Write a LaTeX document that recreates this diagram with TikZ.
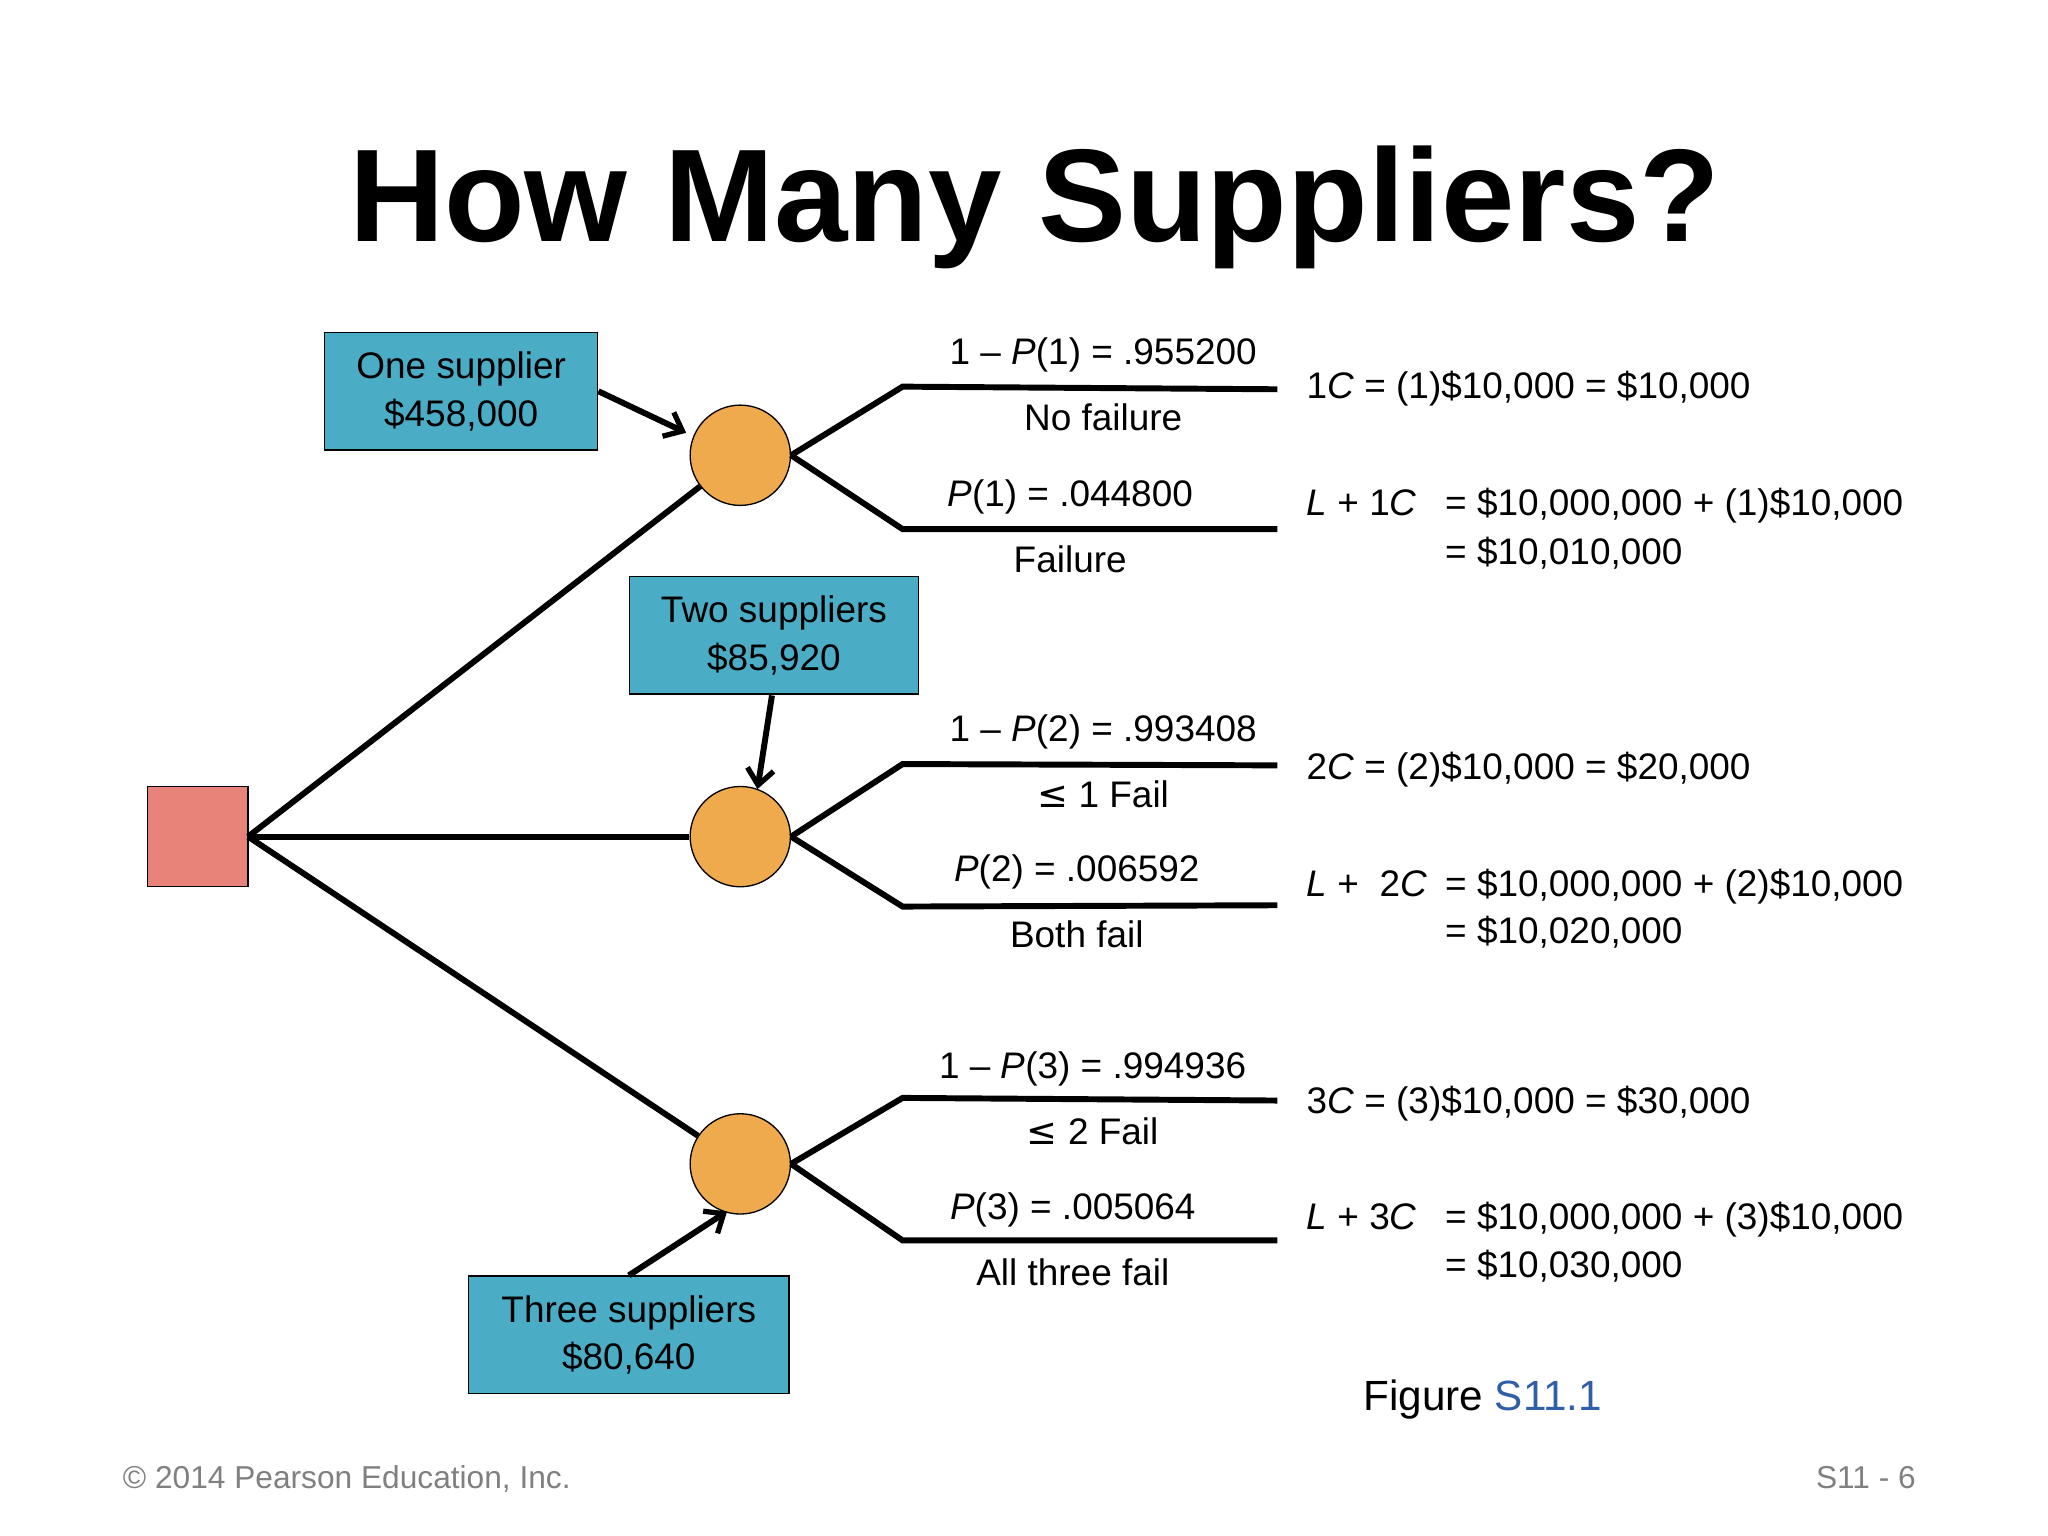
\documentclass[tikz,border=0pt]{standalone}
\usepackage{fontspec}
\setmainfont{Liberation Sans}
\newfontfamily\symfont{DejaVu Sans}
\usetikzlibrary{arrows.meta}
\definecolor{boxblue}{HTML}{4BACC6}
\definecolor{nodeorange}{HTML}{EEAA4C}
\definecolor{sqred}{HTML}{E8837A}
\definecolor{figblue}{HTML}{2E5FA8}
\begin{document}
\begin{tikzpicture}[x=1pt,y=-1pt,
  br/.style={line width=4.5pt},
  chance/.style={circle,draw,fill=nodeorange,minimum size=76pt,inner sep=0pt,line width=1pt},
  lbl/.style={font=\fontsize{28}{32}\selectfont,inner sep=0pt,anchor=base},
  rt/.style={font=\fontsize{28}{32}\selectfont,inner sep=0pt,anchor=base west},
  cbox/.style={draw,fill=boxblue,font=\fontsize{28}{36}\selectfont,align=center,inner sep=0pt,line width=1pt},
  arr/.style={line width=4.5pt,-{Straight Barb[length=12pt,width=20pt,line width=4pt]}}]
\path[use as bounding box] (0,0) rectangle (1552,1164);
\node[font=\fontsize{100}{110}\selectfont\bfseries,anchor=base] (title) at (784,183) {How Many Suppliers?};
\node[draw,fill=sqred,minimum size=76pt,inner sep=0pt,line width=1pt] (sq) at (150,634) {};
\node[chance] (c1) at (561,345) {};
\node[chance] (c2) at (561,634) {};
\node[chance] (c3) at (561,882) {};
\coordinate (s) at (188,634);
\draw[br] (s) -- (c1);
\draw[br] (s) -- (c2);
\draw[br] (s) -- (c3);
\coordinate (a1) at (684,293); \coordinate (a1e) at (968,295);
\coordinate (b1) at (684,401); \coordinate (b1e) at (968,401);
\coordinate (a2) at (684,579); \coordinate (a2e) at (968,580);
\coordinate (b2) at (684,687); \coordinate (b2e) at (968,686);
\coordinate (a3) at (684,832); \coordinate (a3e) at (968,834);
\coordinate (b3) at (684,940); \coordinate (b3e) at (968,940);
\draw[br] (c1.east) -- (a1) -- (a1e);
\draw[br] (c1.east) -- (b1) -- (b1e);
\draw[br] (c2.east) -- (a2) -- (a2e);
\draw[br] (c2.east) -- (b2) -- (b2e);
\draw[br] (c3.east) -- (a3) -- (a3e);
\draw[br] (c3.east) -- (b3) -- (b3e);
\node[cbox,minimum width=207pt,minimum height=89pt] (o1) at (349.5,296.5) {One supplier\\\$458,000};
\node[cbox,minimum width=219pt,minimum height=89pt] (o2) at (586.5,481.5) {Two suppliers\\\$85,920};
\node[cbox,minimum width=243pt,minimum height=89pt] (o3) at (476.5,1011.5) {Three suppliers\\\$80,640};
\draw[arr] (o1.east) -- (520,328);
\draw[arr] (585,527) -- (574,598);
\draw[arr] (o3.north) -- (551,918);
% branch labels
\node[lbl] (l1) at (836,276) {1 -- \textit{P}(1) = .955200};
\node[lbl] (l2) at (836,326) {No failure};
\node[lbl] (l3) at (811,384) {\textit{P}(1) = .044800};
\node[lbl] (l4) at (811,434) {Failure};
\node[lbl] (l5) at (836,562) {1 -- \textit{P}(2) = .993408};
\node[lbl] (l6) at (836,612) {{\symfont ≤} 1 Fail};
\node[lbl] (l7) at (816,668) {\textit{P}(2) = .006592};
\node[lbl] (l8) at (816,718) {Both fail};
\node[lbl] (l9) at (828,817) {1 -- \textit{P}(3) = .994936};
\node[lbl] (l10) at (828,867) {{\symfont ≤} 2 Fail};
\node[lbl] (l11) at (813,924) {\textit{P}(3) = .005064};
\node[lbl] (l12) at (813,974) {All three fail};
% right texts
\node[rt] (r1) at (990,302) {1\textit{C} = (1)\$10,000 = \$10,000};
\node[rt] (r2) at (990,391) {\textit{L} + 1\textit{C}};
\node[rt] (r2b) at (1095,391) {= \$10,000,000 + (1)\$10,000};
\node[rt] (r2c) at (1095,428) {= \$10,010,000};
\node[rt] (r3) at (990,591) {2\textit{C} = (2)\$10,000 = \$20,000};
\node[rt] (r4) at (990,679) {\textit{L} +\ \ 2\textit{C}};
\node[rt] (r4b) at (1095,679) {= \$10,000,000 + (2)\$10,000};
\node[rt] (r4c) at (1095,715) {= \$10,020,000};
\node[rt] (r5) at (990,844) {3\textit{C} = (3)\$10,000 = \$30,000};
\node[rt] (r6) at (990,932) {\textit{L} + 3\textit{C}};
\node[rt] (r6b) at (1095,932) {= \$10,000,000 + (3)\$10,000};
\node[rt] (r6c) at (1095,968) {= \$10,030,000};
\node[font=\fontsize{32}{36}\selectfont,anchor=base west,inner sep=0pt] (fig) at (1033,1069) {Figure \textcolor{figblue}{S11.1}};
\node[font=\fontsize{24}{28}\selectfont,anchor=base west,inner sep=0pt,text=gray] (cp) at (93,1128) {© 2014 Pearson Education, Inc.};
\node[font=\fontsize{24}{28}\selectfont,anchor=base east,inner sep=0pt,text=gray] (pg) at (1452,1128) {S11 - 6};
\end{tikzpicture}
\end{document}
